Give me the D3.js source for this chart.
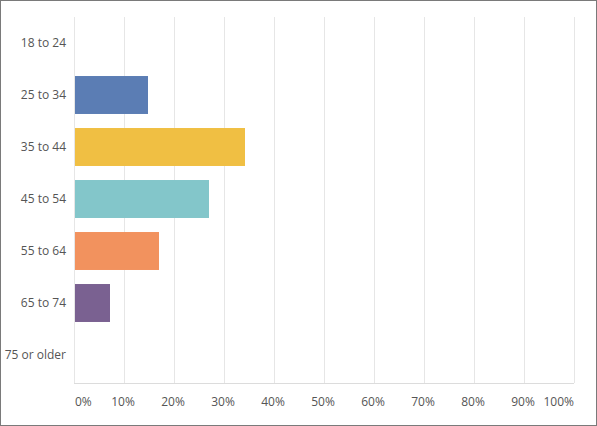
<!DOCTYPE html>
<html>
<head>
<meta charset="UTF-8">
<script src="https://d3js.org/d3.v7.min.js"></script>
<style>
  body { margin: 0; background: #fff; }
  svg { display: block; }
</style>
</head>
<body>
<svg id="chart" width="597" height="426"></svg>
<script>
  // data
  const categories = ["18 to 24", "25 to 34", "35 to 44", "45 to 54", "55 to 64", "65 to 74", "75 or older"];
  const values = [0, 14.6, 34.0, 26.8, 16.8, 7.0, 0];
  const colors = ["#5b80b4", "#5b7db4", "#f0bf43", "#83c6ca", "#f2925e", "#7a6191", "#999"];
  const ticks = [0, 10, 20, 30, 40, 50, 60, 70, 80, 90, 100];

  const svg = d3.select("#chart");
  const font = "'Open Sans', Lato, sans-serif";

  // frame
  svg.append("rect").attr("x", 0.5).attr("y", 0.5).attr("width", 596).attr("height", 425)
     .attr("fill", "none").attr("stroke", "#7a7a7a");

  const x = d3.scaleLinear().domain([0, 100]).range([74, 574]);
  const y = d3.scaleBand().domain(categories).range([17, 381]).paddingInner(0.27).paddingOuter(0.135);

  // gridlines
  svg.append("g").selectAll("line").data(ticks).join("line")
     .attr("x1", d => x(d) + 0.5).attr("x2", d => x(d) + 0.5)
     .attr("y1", 17).attr("y2", 383)
     .attr("stroke", "#e6e6e6");

  // baseline
  svg.append("line").attr("x1", 74).attr("x2", 574).attr("y1", 383.5).attr("y2", 383.5)
     .attr("stroke", "#dcdcdc");

  // bars
  svg.append("g").selectAll("rect").data(categories).join("rect")
     .attr("x", x(0) + 1)
     .attr("y", d => y(d))
     .attr("width", (d, i) => Math.max(0, x(values[i]) - x(0)))
     .attr("height", y.bandwidth())
     .attr("fill", (d, i) => colors[i]);

  // category labels
  svg.append("g").selectAll("text").data(categories).join("text")
     .attr("x", 66).attr("y", d => y(d) + y.bandwidth() / 2)
     .attr("dy", "0.35em").attr("text-anchor", "end")
     .attr("font-family", font).attr("font-size", 12).attr("fill", "#555")
     .text(d => d);

  // tick labels
  svg.append("g").selectAll("text").data(ticks).join("text")
     .attr("x", d => d === 0 ? x(d) + 1 : d === 100 ? x(d) : x(d) - 1)
     .attr("y", 406)
     .attr("text-anchor", d => d === 0 ? "start" : d === 100 ? "end" : "middle")
     .attr("font-family", font).attr("font-size", 12).attr("fill", "#555")
     .text(d => d + "%");
</script>
</body>
</html>
